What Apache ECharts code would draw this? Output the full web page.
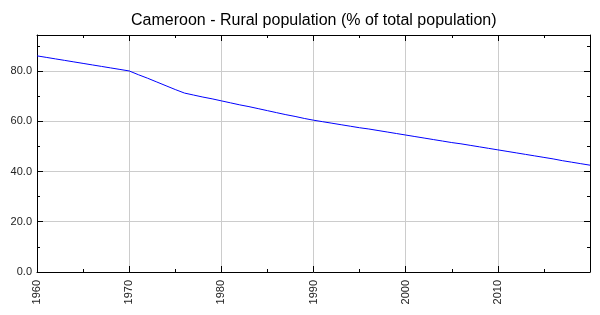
<!DOCTYPE html>
<html>
<head>
<meta charset="utf-8">
<script src="https://cdn.jsdelivr.net/npm/echarts@6/dist/echarts.min.js"></script>
<style>html,body{margin:0;padding:0;background:#fff}#c{width:600px;height:315px}</style>
</head>
<body>
<div id="c"></div>
<script>
var titleText = "Cameroon - Rural population (% of total population)";
var years = [1960,1961,1962,1963,1964,1965,1966,1967,1968,1969,
  1970,1971,1972,1973,1974,1975,1976,1977,1978,1979,
  1980,1981,1982,1983,1984,1985,1986,1987,1988,1989,
  1990,1991,1992,1993,1994,1995,1996,1997,1998,1999,
  2000,2001,2002,2003,2004,2005,2006,2007,2008,2009,
  2010,2011,2012,2013,2014,2015,2016,2017,2018,2019,2020];
var ruralPct = [86.0,85.4,84.8,84.2,83.6,83.0,82.4,81.8,81.2,80.6,
  80.0,78.5,77.1,75.6,74.1,72.6,71.2,70.4,69.6,68.9,
  68.1,67.3,66.5,65.8,65.0,64.2,63.4,62.6,61.9,61.1,
  60.4,59.8,59.2,58.6,58.0,57.4,56.9,56.3,55.7,55.1,
  54.5,53.9,53.3,52.7,52.1,51.5,51.0,50.4,49.8,49.2,
  48.6,48.0,47.4,46.8,46.2,45.6,45.0,44.3,43.7,43.1,42.5];

var chart = echarts.init(document.getElementById('c'));
var data = years.map(function(y, i){ return [y, ruralPct[i]]; });
var font = 'Liberation Sans, Arial, sans-serif';
function xAx(pos, showLabel, showSplit){
  return {
    type:'value', position:pos, min:1960, max:2020, interval:10,
    axisLine:{show:true, onZero:false, lineStyle:{color:'#000', width:1}},
    axisTick:{show:true, inside:true, length:6, lineStyle:{color:'#000'}},
    minorTick:{show:true, splitNumber:2, length:3, lineStyle:{color:'#000'}},
    splitLine:{show:showSplit, lineStyle:{color:'#cccccc', width:1}},
    axisLabel:{show:showLabel, rotate:90, margin:8, fontSize:11, color:'#222', fontFamily:font,
      showMaxLabel:false,
      formatter:function(v){ return v >= 2020 ? '' : String(v); }}
  };
}
function yAx(pos, showLabel, showSplit){
  return {
    type:'value', position:pos, min:0, max:94.3, interval:20,
    axisLine:{show:true, onZero:false, lineStyle:{color:'#000', width:1}},
    axisTick:{show:true, inside:true, length:6, lineStyle:{color:'#000'}},
    minorTick:{show:true, splitNumber:2, length:3, lineStyle:{color:'#000'}},
    splitLine:{show:showSplit, lineStyle:{color:'#cccccc', width:1}},
    axisLabel:{show:showLabel, margin:5, fontSize:11, color:'#222', fontFamily:font,
      showMaxLabel:false,
      formatter:function(v){ return (v % 20 === 0) ? v.toFixed(1) : ''; }}
  };
}
chart.setOption({
  animation:false,
  title:{text:titleText, left:126, top:8,
    textStyle:{fontSize:16, fontWeight:'normal', color:'#000', fontFamily:font}},
  grid:{left:37, right:10, top:35, bottom:43},
  xAxis:[xAx('bottom', true, true), xAx('top', false, false)],
  yAxis:[yAx('left', true, true), yAx('right', false, false)],
  series:[{type:'line', xAxisIndex:0, yAxisIndex:0, data:data, showSymbol:false,
    lineStyle:{color:'#0000ff', width:1}, itemStyle:{color:'#0000ff'}}]
});
</script>
</body>
</html>
